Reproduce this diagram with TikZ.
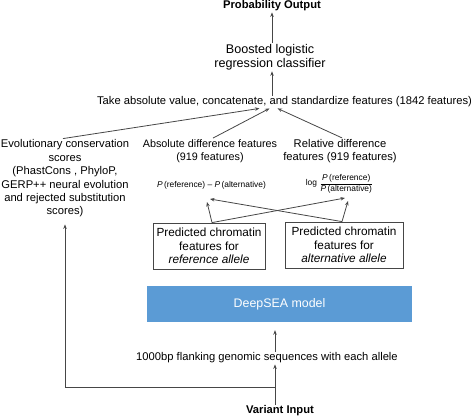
\documentclass[tikz,border=0pt]{standalone}
\usepackage{fontspec}
\setmainfont{Liberation Sans}
\usetikzlibrary{arrows.meta,positioning}
\definecolor{seablue}{RGB}{91,155,213}
\definecolor{wire}{RGB}{70,70,70}

\begin{document}
\begin{tikzpicture}
  [x=1pt, y=-1pt, >={Stealth[length=4.5pt,width=3.5pt]},
  txt/.style={align=center, inner sep=1pt, font=\fontsize{11.2}{13.4}\selectfont},
  formula/.style={inner sep=1pt, font=\fontsize{8.4}{9}\selectfont},
  feature/.style={rectangle, draw=wire, thick, align=center, inner sep=0pt,
    minimum width=112pt, minimum height=46pt, font=\fontsize{11.8}{13.5}\selectfont},
  model/.style={rectangle, fill=seablue, text=white, inner sep=0pt,
    minimum width=265pt, minimum height=36pt, font=\fontsize{12.4}{14}\selectfont},
  wired/.style={->, wire, line width=0.8pt}]

  \useasboundingbox (0,0) rectangle (474,420);

  \node[txt, font=\fontsize{11.2}{13}\bfseries] (output) at (272,6) {Probability Output};
  \node[txt, font=\fontsize{12.6}{14.5}\selectfont] (classifier) at (270,57) {Boosted logistic\\regression classifier};
  \node[txt] (concat) at (284.5,102) {Take absolute value, concatenate, and standardize features (1842 features)};

  \node[txt] (evol) at (65,178.5) {Evolutionary conservation\\scores\\(PhastCons , PhyloP,\\GERP++ neural evolution\\and rejected substitution\\scores)};
  \node[txt, font=\fontsize{10.8}{13.4}\selectfont] (absdiff) at (210,151) {Absolute difference features\\(919 features)};
  \node[txt] (reldiff) at (340,151) {Relative difference\\features (919 features)};

  \node[formula] (pdiff) at (211.5,185) {\textit{P}\,(reference) -- \textit{P}\,(alternative)};
  \node[formula] (logratio) at (339.5,184) {log $\displaystyle\frac{\mbox{\textit{P}\,(reference)}}{\mbox{\textit{P}\,(alternative)}}$};

  \node[feature] (refbox) at (209,246) {Predicted chromatin\\features for\\\textit{reference allele}};
  \node[feature, minimum width=118pt] (altbox) at (344,245) {Predicted chromatin\\features for\\\textit{alternative allele}};

  \node[model] (deepsea) at (279.5,304) {DeepSEA model};
  \node[txt] (flank) at (267,358) {1000bp flanking genomic sequences with each allele};
  \node[txt, font=\fontsize{11.2}{13}\bfseries] (input) at (280,411) {Variant Input};

  \coordinate (split) at (275,387);
  \coordinate (pdiff-a) at (207,202);
  \coordinate (pdiff-b) at (210,199);
  \coordinate (log-a) at (345,198);
  \coordinate (log-b) at (348,201);

  % bottom part
  \draw[wired] (input.north -| split) -- (flank.south -| split);
  \draw[wired, shorten >=8pt] (flank.north -| split) -- (deepsea.south -| split);
  \draw[wired] (split) -- (split -| evol) -- ([yshift=-6pt]evol.south);

  % crossing arrows
  \draw[wired] ([xshift=3pt]refbox.north) -- (pdiff-a);
  \draw[wired] ([xshift=3pt]refbox.north) -- (log-a);
  \draw[wired] ([xshift=-2pt]altbox.north) -- (log-b);
  \draw[wired] ([xshift=-2pt]altbox.north) -- (pdiff-b);

  % up to the classifier
  \draw[wired] ([xshift=-2pt]evol.north) -- ([xshift=-25pt]concat.south);
  \draw[wired] ([xshift=3pt]absdiff.north) -- ([xshift=-15pt]concat.south);
  \draw[wired] ([xshift=2pt]reldiff.north) -- ([xshift=-7pt]concat.south);
  \draw[wired] (concat.north -| output) -- (classifier.south -| output);
  \draw[wired] (classifier.north -| output) -- (output.south);

\end{tikzpicture}
\end{document}
